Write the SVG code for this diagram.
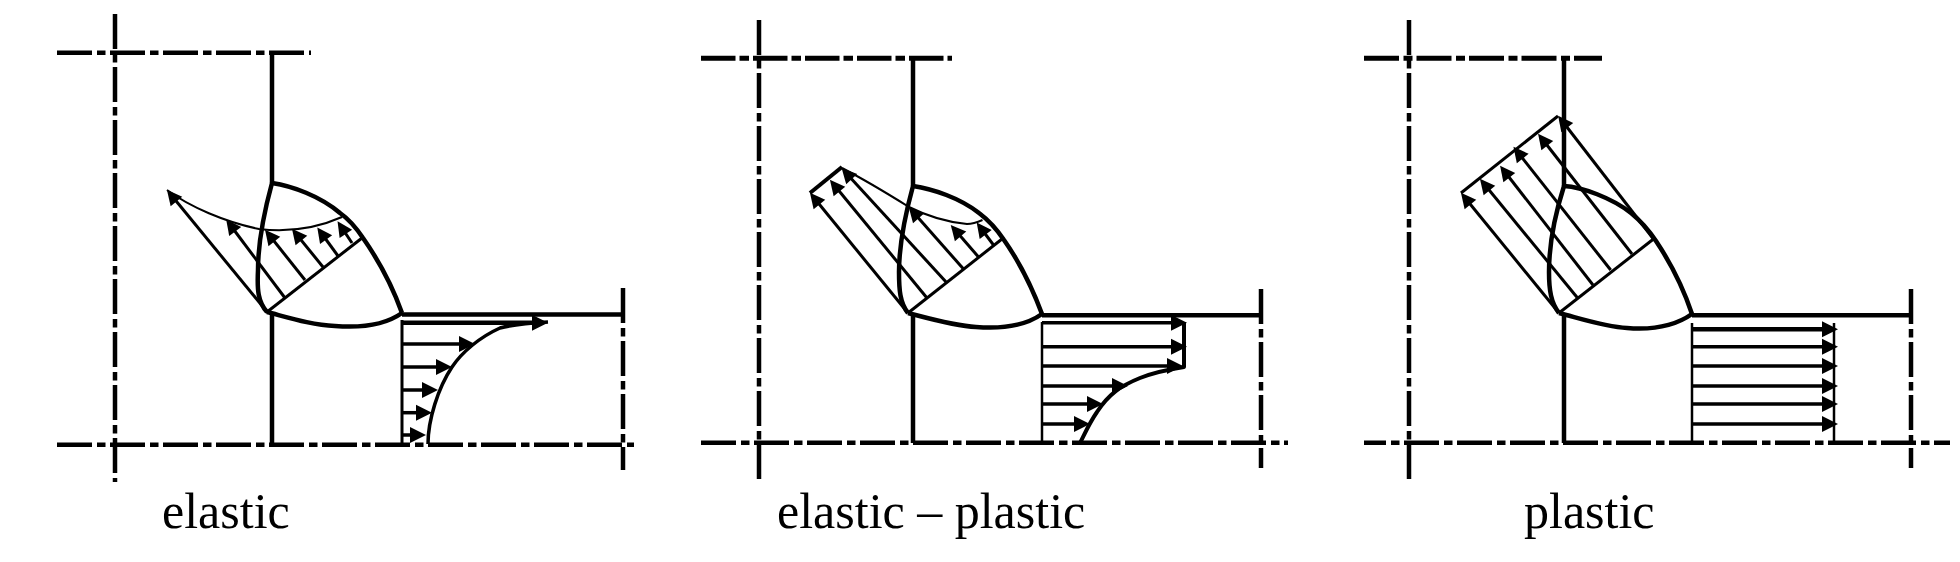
<svg xmlns="http://www.w3.org/2000/svg" width="1960" height="562" viewBox="0 0 1960 562">
<style>
.bg{fill:#fff}
path,line,polyline{fill:none;stroke:#000;stroke-linecap:butt;stroke-linejoin:round}
.cl{stroke-width:4.5;stroke-dasharray:35 5 8.5 4.5}
.cl2{stroke-width:5;stroke-dasharray:34.5 4 9.5 4}
.web{stroke-width:4.5}
.weld{stroke-width:4.5}
.base{stroke-width:2.5}
.thin{stroke-width:2}
.edge{stroke-width:4}
.diag{stroke-width:3;marker-end:url(#hd)}
.fa{stroke-width:3.5;marker-end:url(#hf)}
.fb{stroke-width:4.5;marker-end:url(#hf)}
text{font-family:"Liberation Serif","Times New Roman",serif;font-size:50px;fill:#000}
</style>
<defs>
<marker id="hd" markerUnits="userSpaceOnUse" markerWidth="16" markerHeight="15" refX="7" refY="7.5" orient="auto" overflow="visible"><polygon points="0,0 15,7.5 0,15" fill="#000"/></marker>
<marker id="hf" markerUnits="userSpaceOnUse" markerWidth="18" markerHeight="16" refX="8" refY="8" orient="auto" overflow="visible"><polygon points="0,0 16,8 0,16" fill="#000"/></marker>
</defs>
<rect class="bg" width="1960" height="562"/>

<g id="elastic-panel">
<line class="cl" x1="115" y1="14" x2="115" y2="482"/>
<line class="cl" x1="57" y1="52.7" x2="311" y2="52.7"/>
<line class="cl" x1="57" y1="444.7" x2="634" y2="444.7"/>
<line class="cl" x1="623" y1="288" x2="623" y2="470"/>
<line class="web" x1="272" y1="52" x2="272" y2="183"/>
<line class="web" x1="272" y1="313" x2="272" y2="445"/>
<line class="web" x1="402" y1="314.5" x2="623" y2="314.5"/>
<path class="weld" d="M272 183C292 186 320 196 340 213C350 220 357 229 363 238C377 258 392 285 402 313"/>
<path class="weld" d="M272 183C266 205 258 240 258 270C257 290 258 302 267 312"/>
<path class="weld" d="M267 312C290 318 312 325 335 326C360 328 385 325 402 313"/>
<line class="edge" x1="267" y1="312" x2="362" y2="238" style="stroke-width:3"/>
<line class="diag" x1="268" y1="313" x2="172" y2="196"/>
<line class="diag" x1="285" y1="298" x2="231" y2="226"/>
<line class="diag" x1="305" y1="280" x2="270" y2="236"/>
<line class="diag" x1="323" y1="267" x2="297" y2="235"/>
<line class="diag" x1="338" y1="256" x2="322" y2="234"/>
<line class="diag" x1="352" y1="243" x2="342" y2="228"/>
<path class="thin" d="M167 190C190 207 225 222 259 229C285 232 315 229 342 217"/>
<line class="base" x1="402" y1="320" x2="402" y2="445" style="stroke-width:3"/>
<line class="fb" x1="402" y1="322.7" x2="540" y2="322.7"/>
<line class="fa" x1="402" y1="344" x2="467" y2="344"/>
<line class="fa" x1="402" y1="367" x2="444" y2="367"/>
<line class="fa" x1="402" y1="390" x2="430" y2="390"/>
<line class="fa" x1="402" y1="412.7" x2="424" y2="412.7"/>
<line class="fa" x1="402" y1="435" x2="418" y2="435"/>
<path class="weld" d="M428 444C428 420 438 388 452 367C462 352 480 337 500 328C515 324 530 323 548 322" style="stroke-width:3.5"/>
<text x="162" y="528">elastic</text>
</g>

<g id="elastic-plastic-panel">
<line class="cl" x1="759" y1="20" x2="759" y2="482"/>
<line class="cl2" x1="701" y1="58.3" x2="952" y2="58.3"/>
<line class="cl" x1="701" y1="442.7" x2="1288" y2="442.7"/>
<line class="cl" x1="1261" y1="289" x2="1261" y2="468"/>
<line class="web" x1="913" y1="58" x2="913" y2="186"/>
<line class="web" x1="913" y1="314" x2="913" y2="443"/>
<line class="web" x1="1042" y1="315.3" x2="1261" y2="315.3"/>
<path class="weld" d="M913 186C933 189 960 198 979 213C991 222 998 231 1004 240C1018 260 1032 287 1042 314"/>
<path class="weld" d="M913 186C907 208 899 240 899 272C899 290 900 303 908 313"/>
<path class="weld" d="M908 313C931 319 955 326 976 327C1001 329 1025 326 1042 314"/>
<line class="edge" x1="908" y1="313" x2="1002" y2="239" style="stroke-width:3"/>
<line class="edge" x1="810" y1="193" x2="842" y2="167"/>
<line class="diag" x1="908" y1="313" x2="815" y2="199"/>
<line class="diag" x1="927" y1="298" x2="835" y2="186"/>
<line class="diag" x1="947" y1="283" x2="847" y2="174"/>
<line class="diag" x1="963.5" y1="269" x2="914" y2="213"/>
<line class="diag" x1="978.5" y1="257" x2="956" y2="231"/>
<line class="diag" x1="993.5" y1="245" x2="981.5" y2="229"/>
<path class="thin" d="M842 168C865 180 885 192 909 207C925 215 945 222 967 224C973 224 978 222 982.5 220"/>
<line class="base" x1="1042" y1="322" x2="1042" y2="443"/>
<line class="fa" x1="1042" y1="322.7" x2="1179" y2="322.7"/>
<line class="fa" x1="1042" y1="346.7" x2="1179" y2="346.7"/>
<line class="fa" x1="1042" y1="366" x2="1175" y2="366"/>
<line class="fa" x1="1042" y1="386" x2="1120" y2="386"/>
<line class="fa" x1="1042" y1="404" x2="1095" y2="404"/>
<line class="fa" x1="1042" y1="424" x2="1082" y2="424"/>
<path class="edge" d="M1184 322V367C1165 370 1150 374 1140 378C1120 386 1108 395 1097 412C1090 422 1086 431 1080 443"/>
<text x="777" y="528">elastic – plastic</text>
</g>

<g id="plastic-panel">
<line class="cl" x1="1409" y1="20" x2="1409" y2="482"/>
<line class="cl2" x1="1364" y1="58.3" x2="1602" y2="58.3" style="stroke-dasharray:35 4.5 9 4"/>
<line class="cl" x1="1364" y1="442.7" x2="1950" y2="442.7" style="stroke-dashoffset:13"/>
<line class="cl" x1="1911" y1="289" x2="1911" y2="468"/>
<line class="web" x1="1564" y1="58" x2="1564" y2="186"/>
<line class="web" x1="1564" y1="314" x2="1564" y2="443"/>
<line class="web" x1="1692" y1="315.3" x2="1911" y2="315.3"/>
<path class="weld" d="M1564 186C1582 187 1612 198 1631 213C1642 222 1650 232 1656 241C1670 262 1683 287 1692 314"/>
<path class="weld" d="M1564 186C1557 208 1549 240 1549 272C1549 290 1551 303 1559 313"/>
<path class="weld" d="M1559 313C1582 319 1606 327 1627 328C1652 330 1675 326 1692 314"/>
<line class="edge" x1="1559" y1="313" x2="1653.5" y2="239" style="stroke-width:3"/>
<line class="edge" x1="1461" y1="193" x2="1558" y2="116" style="stroke-width:3"/>
<line class="diag" x1="1559" y1="313" x2="1466" y2="199"/>
<line class="diag" x1="1577.6" y1="298" x2="1485" y2="185"/>
<line class="diag" x1="1593" y1="285" x2="1505" y2="172"/>
<line class="diag" x1="1610.7" y1="270" x2="1518.4" y2="153"/>
<line class="diag" x1="1632" y1="254" x2="1543" y2="140"/>
<line class="diag" x1="1653.5" y1="239" x2="1563" y2="122"/>
<line class="base" x1="1692" y1="323" x2="1692" y2="443"/>
<line class="base" x1="1834" y1="323" x2="1834" y2="443"/>
<line class="fb" x1="1692" y1="329.3" x2="1830" y2="329.3"/>
<line class="fa" x1="1692" y1="346.7" x2="1830" y2="346.7"/>
<line class="fa" x1="1692" y1="366" x2="1830" y2="366"/>
<line class="fa" x1="1692" y1="386" x2="1830" y2="386"/>
<line class="fa" x1="1692" y1="404" x2="1830" y2="404"/>
<line class="fa" x1="1692" y1="424" x2="1830" y2="424"/>
<text x="1524" y="528">plastic</text>
</g>
</svg>
